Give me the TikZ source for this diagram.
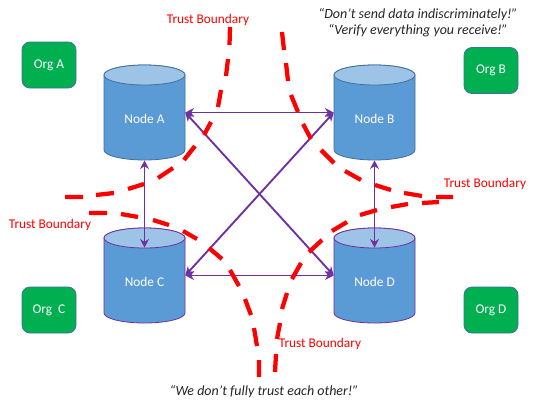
\documentclass[tikz,border=0pt]{standalone}
\usepackage{fontspec}
\setmainfont{Carlito}
\usetikzlibrary{arrows.meta}
\definecolor{cylbody}{HTML}{5B9BD5}
\definecolor{cyltop}{HTML}{9DC3E6}
\definecolor{edgeblue}{HTML}{41719C}
\definecolor{linkpurple}{HTML}{7030A0}
\definecolor{orggreen}{HTML}{00B050}
\tikzset{
  x=0.75pt,y=-0.75pt,
  orgbox/.style={draw=edgeblue,line width=0.6pt,fill=orggreen,rounded corners=6pt,minimum width=40.5pt,minimum height=34.5pt,inner sep=0pt,text=white,font=\fontsize{10}{12}\selectfont},
  cylnode/.style={minimum width=60.75pt,minimum height=71.25pt,inner sep=0pt,text=white,font=\fontsize{10}{12}\selectfont},
  link/.style={draw=linkpurple,line width=1.4pt,{Stealth[length=6.5pt,width=6.5pt]}-{Stealth[length=6.5pt,width=6.5pt]}},
  boundary/.style={draw=red,line width=3.2pt},
  boundlabel/.style={text=red,inner sep=0pt,font=\fontsize{10}{12}\selectfont},
  quotetext/.style={text=black!85,inner sep=0pt,font=\fontsize{10.5}{12}\selectfont\itshape,align=center}
}
% #1 name, #2 cx, #3 cy, #4 edge colour, #5 label
\newcommand{\cylinderat}[5]{%
  \path[fill=cylbody,draw=#4,line width=0.6pt]
    (#2-40.5,#3-37.5) -- (#2-40.5,#3+37.5) arc[start angle=180,end angle=360,x radius=30.375pt,y radius=7.5pt]
    -- (#2+40.5,#3-37.5) arc[start angle=0,end angle=180,x radius=30.375pt,y radius=7.5pt] -- cycle;
  \path[fill=cyltop,draw=#4,line width=0.6pt] (#2,#3-37.5) ellipse[x radius=30.375pt,y radius=7.5pt];
  \node[cylnode] (#1) at (#2,#3) {};
  \node[cylnode,minimum height=0pt] (#1label) at (#2,#3+6) {#5};
}
\begin{document}
\begin{tikzpicture}
\useasboundingbox (0,0) rectangle (535,407);
\fill[white] (0,0) rectangle (535,407);
\node[orgbox] (orga) at (49,65) {Org A};
\node[orgbox] (orgb) at (491,70.5) {Org B};
\node[orgbox] (orgc) at (49,310) {Org\ \ C};
\node[orgbox] (orgd) at (491,310) {Org D};
\cylinderat{A}{144.5}{112.5}{edgeblue}{Node A}
\cylinderat{B}{374.5}{112.5}{edgeblue}{Node B}
\cylinderat{C}{144.5}{275.5}{linkpurple}{Node C}
\cylinderat{D}{374.5}{275.5}{linkpurple}{Node D}
\coordinate (Ctop) at ([yshift=-15pt]C.north);
\coordinate (Dtop) at ([yshift=-15pt]D.north);
\draw[link] (A.east) -- (B.west);
\draw[link] (C.east) -- (D.west);
\draw[link] (A.east) -- (D.west);
\draw[link] (B.west) -- (C.east);
\draw[link] (A.south) -- (Ctop);
\draw[link] (B.south) -- (Dtop);
\draw[boundary] (230,27)--(229.5,45) (228,59)--(226,76) (221,90)--(218,107) (211,122)--(204,135) (195,146)--(184,160) (173,168)--(158,178) (144,184)--(128,189) (114,193)--(96,195) (83,197)--(65,197);
\draw[boundary] (282,32)--(284,50) (286,63)--(288,81) (291,95)--(298,112) (303,124)--(311,139) (321,150)--(334,163) (345,171)--(361,180) (375,185)--(391,190) (404,193)--(422,196) (436,197)--(453,197);
\draw[boundary] (89,213)--(107,213) (121,214)--(138,217) (153,220)--(169,225) (183,231)--(197,239) (209,248)--(222,259) (230,270)--(239,286) (245,299)--(251,315) (254,328)--(257,346) (259,360)--(259,377);
\draw[boundary] (439,202)--(422,203) (408,204)--(391,207) (377,210)--(360,215) (347,222)--(332,231) (322,240)--(309,252) (301,263)--(292,279) (287,293)--(282,309) (280,323)--(277,339) (276,354)--(275,372);
\node[boundlabel] (tb1) at (208,19.5) {Trust Boundary};
\node[boundlabel] (tb2) at (485,183.5) {Trust Boundary};
\node[boundlabel] (tb3) at (50,225) {Trust Boundary};
\node[boundlabel] (tb4) at (320,344) {Trust Boundary};
\node[quotetext] (q1) at (418,22.5) {“Don’t send data indiscriminately!”\\“Verify everything you receive!”};
\node[quotetext] (q2) at (264,392) {“We don’t fully trust each other!”};
\end{tikzpicture}
\end{document}
